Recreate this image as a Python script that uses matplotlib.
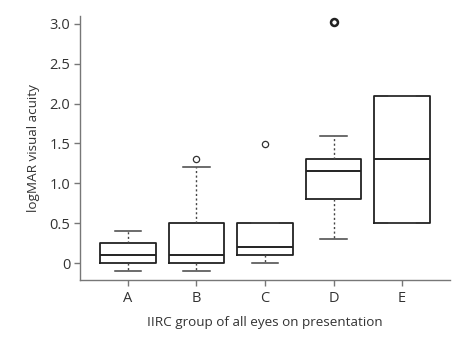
import matplotlib
matplotlib.use("Agg")
import matplotlib.pyplot as plt

plt.rcParams["font.family"] = ["Open Sans", "DejaVu Sans"]

groups = ["A", "B", "C", "D", "E"]
whisker_low = [-0.1, -0.1, 0.0, 0.3, 0.5]
q1 = [0.0, 0.0, 0.1, 0.8, 0.5]
median = [0.1, 0.1, 0.2, 1.15, 1.3]
q3 = [0.25, 0.5, 0.5, 1.3, 2.1]
whisker_high = [0.4, 1.2, 0.5, 1.6, 2.1]
outliers = [[], [1.31], [1.49], [3.02], []]
y_ticks = [0, 0.5, 1.0, 1.5, 2.0, 2.5, 3.0]
y_tick_labels = ["0", "0.5", "1.0", "1.5", "2.0", "2.5", "3.0"]

stats = []
for g, lo, a, m, b, hi, fl in zip(groups, whisker_low, q1, median, q3, whisker_high, outliers):
    stats.append(dict(label=g, whislo=lo, q1=a, med=m, q3=b, whishi=hi, fliers=fl))

fig = plt.figure(figsize=(4.74, 3.46), dpi=100)
ax = fig.add_axes([80 / 474, 66 / 346, 370 / 474, 264 / 346])

line_col = "#222222"
ax.bxp(
    stats,
    positions=range(1, len(groups) + 1),
    widths=0.81,
    boxprops=dict(color=line_col, linewidth=1.3),
    medianprops=dict(color=line_col, linewidth=1.4),
    whiskerprops=dict(color="#444444", linewidth=1.0, linestyle=(0, (1.5, 1.8))),
    capprops=dict(color="#444444", linewidth=1.1),
    capwidths=0.39,
    flierprops=dict(marker="o", markersize=4.5, markerfacecolor="none",
                    markeredgecolor="#333333", markeredgewidth=0.9),
)

# the group D outlier is several coincident observations
ax.plot([4], [outliers[3][0]], marker="o", markersize=5, markerfacecolor="none",
        markeredgecolor="#222222", markeredgewidth=1.8, linestyle="none")

ax.set_xlim(0.30, 5.70)
ax.set_ylim(-0.213, 3.10)
ax.set_yticks(y_ticks)
ax.set_yticklabels(y_tick_labels)
ax.set_xticks(range(1, len(groups) + 1))
ax.set_xticklabels(groups)

for side in ("top", "right"):
    ax.spines[side].set_visible(False)
for side in ("left", "bottom"):
    ax.spines[side].set_color("#777777")
    ax.spines[side].set_linewidth(1.0)

ax.tick_params(axis="both", colors="#777777", labelcolor="#333333",
               labelsize=10.5, length=4, width=1.0)
ax.tick_params(axis="y", pad=3)
ax.tick_params(axis="x", pad=4)

ax.set_ylabel("logMAR visual acuity", fontsize=9.7, color="#333333", labelpad=7)
ax.set_xlabel("IIRC group of all eyes on presentation", fontsize=9.7,
              color="#333333", labelpad=7)

fig.savefig("out.png", dpi=100)
